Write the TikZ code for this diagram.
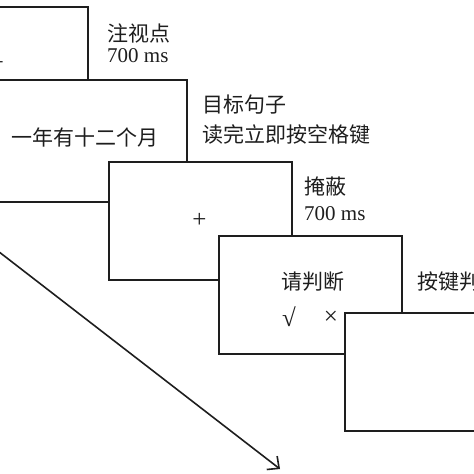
\documentclass[tikz,border=0pt]{standalone}
\usepackage{fontspec}
\setmainfont{Liberation Serif}
\newfontfamily\cjk{Noto Sans CJK SC}
\usetikzlibrary{arrows.meta}
\definecolor{ink}{HTML}{1E1E1E}
\tikzset{
  screen/.style={draw=ink, line width=1.8pt, fill=white, rectangle, inner sep=0pt},
  lbl/.style={anchor=west, inner sep=0pt, text=ink, font=\fontsize{21}{25}\selectfont},
  ctr/.style={anchor=center, inner sep=0pt, text=ink, font=\fontsize{21}{25}\selectfont},
  sym/.style={anchor=center, inner sep=0pt, text=ink, font=\fontsize{25}{28}\selectfont},
  flow/.style={draw=ink, line width=1.6pt, -{Straight Barb[length=9pt,width=17pt,line width=1.6pt]}}
}
\begin{document}
\begin{tikzpicture}[x=1pt,y=-1pt]
\useasboundingbox (0,0) rectangle (474,474);
\clip (0,0) rectangle (474,474);
\fill[white] (0,0) rectangle (474,474);
% screens
\node[screen, minimum width=128pt, minimum height=73pt] (s1) at (24,43.5) {};
\node[sym] (fix) at (-3,63) {+};
\node[screen, minimum width=227pt, minimum height=122pt] (s2) at (73.5,141) {};
\node[ctr] (sent) at (85,137) {\cjk 一年有十二个月};
\node[screen, minimum width=183pt, minimum height=118pt] (s3) at (200.5,221) {};
\node[sym] (mask) at (199.5,220) {+};
\node[screen, minimum width=183pt, minimum height=118pt] (s4) at (310.5,295) {};
\node[ctr] (ask) at (313,282) {\cjk 请判断};
\node[sym] (yes) at (289,317) {√};
\node[sym] (no) at (331,318) {×};
\node[screen, minimum width=183pt, minimum height=118pt] (s5) at (436.5,372) {};
% labels
\node[lbl] (l1a) at (107,33) {\cjk 注视点};
\node[lbl] (l1b) at (107,56) {700 ms};
\node[lbl] (l2a) at (202,105) {\cjk 目标句子};
\node[lbl] (l2b) at (202,134) {\cjk 读完立即按空格键};
\node[lbl] (l3a) at (304,187) {\cjk 掩蔽};
\node[lbl] (l3b) at (304,214) {700 ms};
\node[lbl] (l4a) at (417,282) {\cjk 按键判断};
% time arrow
\coordinate (t0) at (-6,248);
\coordinate (t1) at (280,469);
\draw[flow] (t0) -- (t1);
\end{tikzpicture}
\end{document}
